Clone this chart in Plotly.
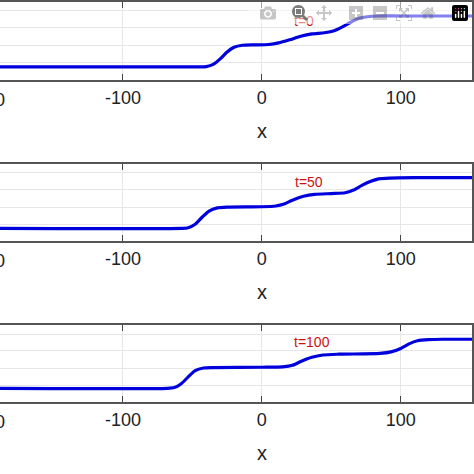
import plotly.graph_objects as go

# profiles (x, u)
x0 = [-200, -45, -40, -35, -30, -25, -20, -14, -5, 5, 12, 20, 28, 36, 45, 52, 58, 64, 70, 76, 84, 100, 160]
u0 = [0.167, 0.167, 0.172, 0.2, 0.27, 0.36, 0.42, 0.445, 0.45, 0.455, 0.475, 0.515, 0.56, 0.59, 0.605, 0.63, 0.68, 0.74, 0.79, 0.81, 0.82, 0.82, 0.82]
x50 = [-200, -58, -53, -48, -43, -38, -32, -25, 0, 10, 16, 22, 30, 38, 50, 60, 66, 72, 78, 84, 92, 110, 160]
u50 = [0.167, 0.167, 0.175, 0.22, 0.31, 0.39, 0.43, 0.44, 0.445, 0.455, 0.48, 0.53, 0.58, 0.605, 0.615, 0.625, 0.66, 0.72, 0.77, 0.805, 0.815, 0.82, 0.82]
x100 = [-200, -68, -63, -58, -53, -48, -42, -35, 0, 15, 22, 28, 36, 44, 55, 85, 93, 100, 106, 112, 120, 130, 160]
u100 = [0.18, 0.18, 0.19, 0.24, 0.33, 0.41, 0.445, 0.45, 0.455, 0.46, 0.48, 0.53, 0.585, 0.615, 0.625, 0.635, 0.655, 0.7, 0.76, 0.8, 0.815, 0.82, 0.82]
labels = ["t=0", "t=50", "t=100"]
label_x = [30, 34, 36]
label_y = [0.76, 0.77, 0.78]
xticks = [-200, -100, 0, 100, 200]
xticklabels = ["-200", "-100", "0", "100", "200"]
yticks = [0.218, 0.436, 0.667, 0.885]

series = [(x0, u0), (x50, u50), (x100, u100)]
domains = [[0.833, 0.998], [0.492, 0.656], [0.152, 0.314]]
title_y = [331, 169, 8]  # "x" label pixel height from bottom

fig = go.Figure()
for i, (xs, us) in enumerate(series):
    n = "" if i == 0 else str(i + 1)
    fig.add_trace(go.Scatter(x=xs, y=us, mode="lines", line=dict(color="#0000dd", width=3.2, shape="spline", smoothing=0.6),
                             xaxis="x" + n, yaxis="y" + n, showlegend=False))
    fig.add_annotation(x=label_x[i], y=label_y[i], xref="x" + n, yref="y" + n, text=labels[i], showarrow=False,
                       font=dict(color="#cc1111", size=14, family="Liberation Sans"))
    fig.add_annotation(x=0.555, y=title_y[i] / 474, xref="paper", yref="paper", text="x", showarrow=False,
                       yanchor="bottom", font=dict(size=20, color="#222", family="Liberation Sans"))
    fig.layout["xaxis" + n] = dict(range=[-188.5, 151.3], domain=[0, 1], anchor="y" + n, tickvals=xticks,
                                   ticktext=xticklabels, ticks="inside", ticklen=6, tickcolor="#444", mirror="ticks",
                                   showline=True, linecolor="#555", linewidth=2, showgrid=True, gridcolor="#e6e6e6",
                                   zeroline=False, tickfont=dict(size=18, color="#222", family="Liberation Sans"))
    fig.layout["yaxis" + n] = dict(range=[0, 1], domain=domains[i], anchor="x" + n, tickvals=yticks, showticklabels=False,
                                   showgrid=True, gridcolor="#e6e6e6", zeroline=False, showline=True, linecolor="#555",
                                   linewidth=2, mirror=True)

# the "-200" labels are cut at the left edge in the source; only their last "0" shows
for i in range(3):
    fig.add_annotation(x=0, y=(title_y[i] + 32) / 474, xref="paper", yref="paper", text="0", showarrow=False,
                       xanchor="center", yanchor="bottom", font=dict(size=18, color="#222", family="Liberation Sans"))

fig.update_layout(width=474, height=474, margin=dict(l=0, r=0, t=0, b=0), plot_bgcolor="white", paper_bgcolor="white")
fig.write_html("out.html", post_script="document.body.style.margin='0';document.body.style.overflow='hidden';")
